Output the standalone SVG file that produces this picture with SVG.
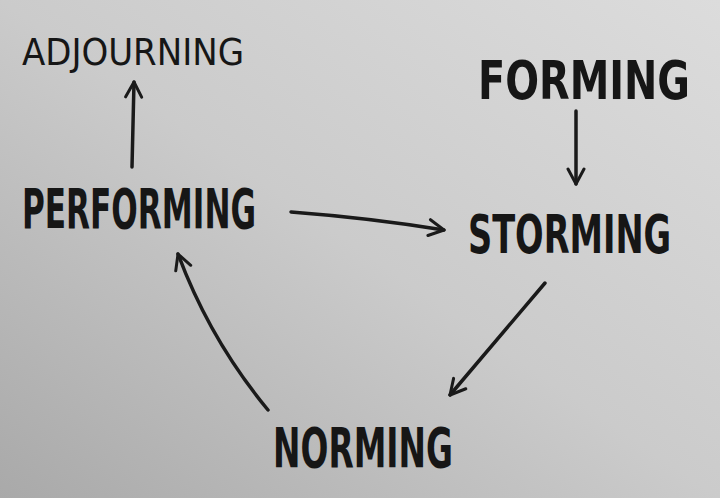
<svg xmlns="http://www.w3.org/2000/svg" width="720" height="498" viewBox="0 0 720 498">
<defs>
<linearGradient id="bg" x1="1" y1="0" x2="0" y2="1">
<stop offset="0" stop-color="#dcdcdc"/>
<stop offset="0.5" stop-color="#cbcbcb"/>
<stop offset="1" stop-color="#a9a9a9"/>
</linearGradient>
<marker id="ah" viewBox="0 0 20 20" refX="17" refY="10" markerWidth="20" markerHeight="20" markerUnits="userSpaceOnUse" orient="auto">
<path d="M2,2 L17,10 L2,18" fill="none" stroke="#1a1a1a" stroke-width="3" stroke-linecap="round" stroke-linejoin="round"/>
</marker>
</defs>
<style>
.t{font-family:"DejaVu Sans Condensed","Liberation Sans Narrow","Liberation Sans",sans-serif;font-weight:bold;fill:#161616}
.c{fill:none;stroke:#1a1a1a;stroke-width:3.5;stroke-linecap:round;marker-end:url(#ah)}
</style>
<rect width="720" height="498" fill="url(#bg)"/>
<g id="adjourning"><text class="t" x="22" y="65" font-size="38" textLength="222" lengthAdjust="spacingAndGlyphs" style="font-weight:normal">ADJOURNING</text></g>
<g id="forming"><text class="t" transform="translate(478,99) scale(0.8,1)" x="0" y="0" font-size="54" textLength="265" lengthAdjust="spacingAndGlyphs">FORMING</text></g>
<g id="performing"><text class="t" x="22" y="228" font-size="56" textLength="234" lengthAdjust="spacingAndGlyphs">PERFORMING</text></g>
<g id="storming"><text class="t" transform="translate(468,253) scale(0.8,1)" x="0" y="0" font-size="54" textLength="254" lengthAdjust="spacingAndGlyphs">STORMING</text></g>
<g id="norming"><text class="t" x="273" y="467" font-size="56" textLength="180" lengthAdjust="spacingAndGlyphs">NORMING</text></g>
<g id="connectors">
<path class="c" d="M132,167 L134,82"/>
<path class="c" d="M576,111 L576,184"/>
<path class="c" d="M291,212 Q370,218 444,230"/>
<path class="c" d="M545,283 L450,395"/>
<path class="c" d="M268,410 Q210,340 178,254"/>
</g>
</svg>
